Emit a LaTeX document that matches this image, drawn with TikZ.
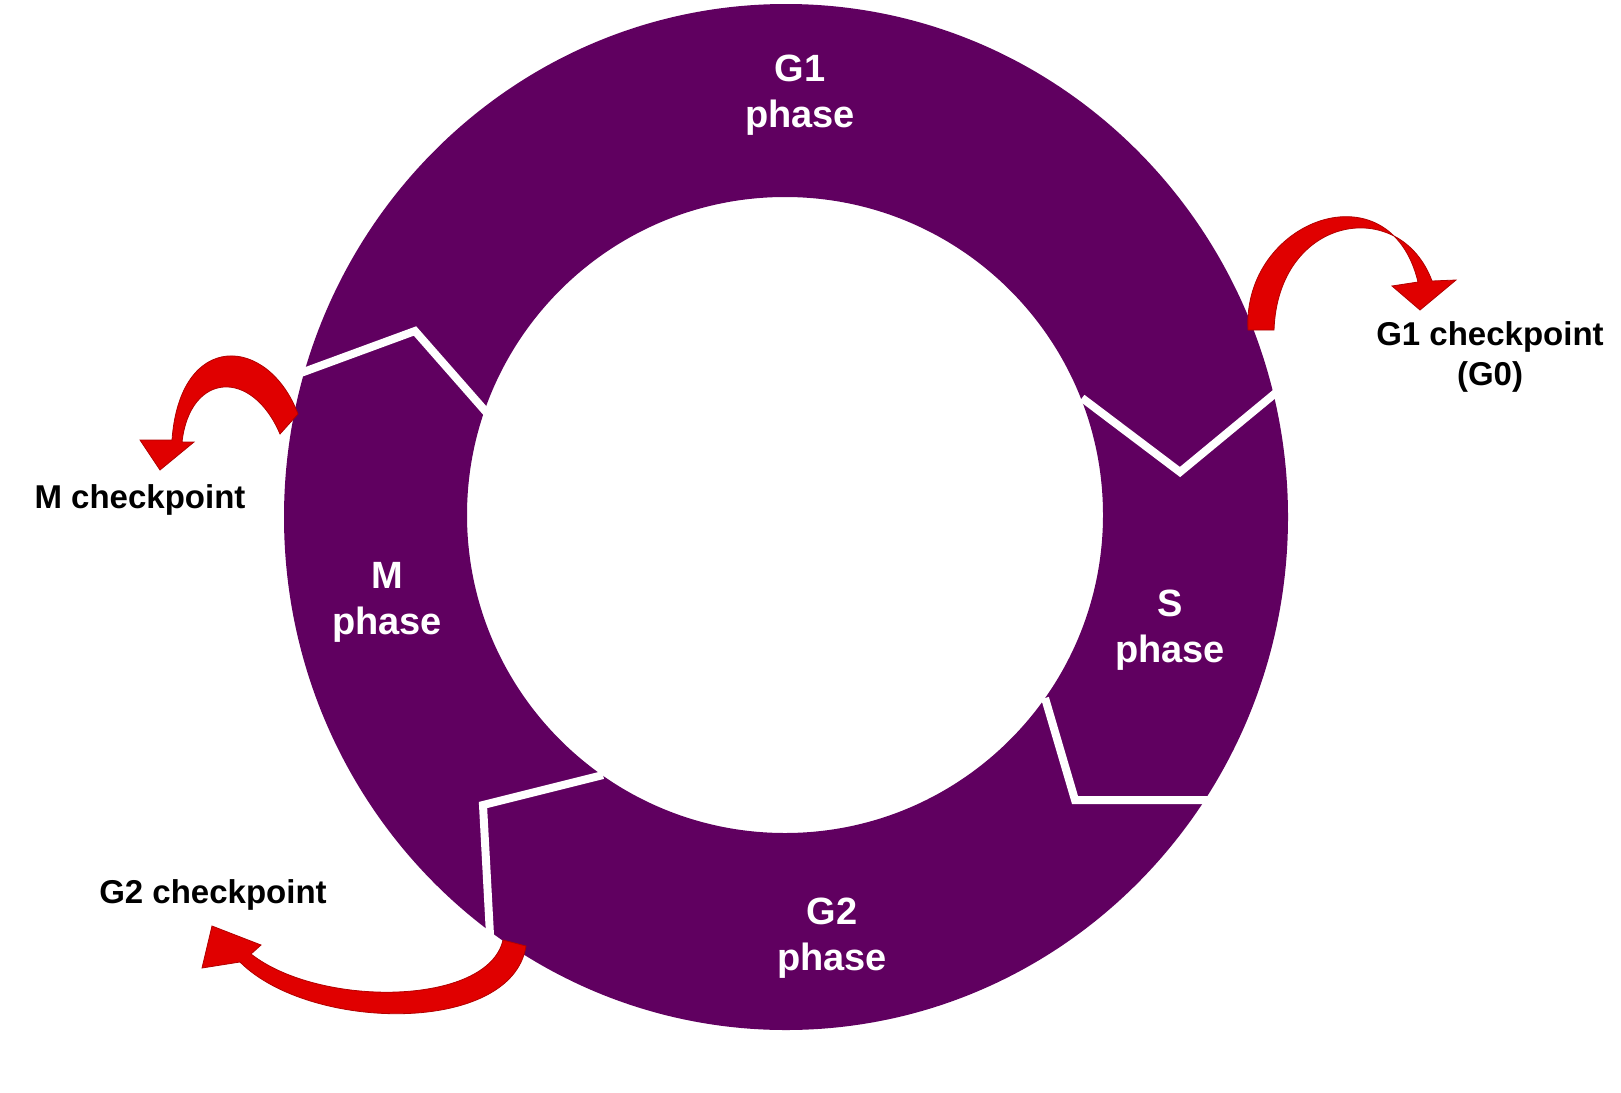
\documentclass[tikz,border=0pt]{standalone}
\usepackage{fontspec}
\setmainfont{Liberation Sans}
\begin{document}
\begin{tikzpicture}[x=1pt,y=-1pt,
  sep/.style={white,line width=8pt,line join=miter},
  ph/.style={white,font=\fontsize{38}{46}\selectfont\bfseries,align=center},
  ck/.style={black,font=\fontsize{33}{40}\selectfont\bfseries,align=center},
  arr/.style={fill=red!88!black,draw=red!70!black,line width=0.8pt}]
\useasboundingbox (0,0) rectangle (1621,1092);
\fill[fill=white] (0,0) rectangle (1621,1092);
\fill[fill={rgb,255:red,96;green,0;blue,96},even odd rule] (786,517) ellipse [x radius=502,y radius=513] (785,515) circle [radius=318];
\draw[sep] (1278,391) -- (1180,472) -- (1082,398);
\draw[sep] (1045,698) -- (1075,800) -- (1210,800);
\draw[sep] (603,775) -- (483,805) -- (490,935);
\draw[sep] (298,374) -- (415,331) -- (487,413);
\node[ph] (g1) at (800,95) {G1\\phase};
\node[ph] (s) at (1170,630) {S\\phase};
\node[ph] (g2) at (832,938) {G2\\phase};
\node[ph] (m) at (387,602) {M\\phase};
\node[ck] (c1) at (1490,357) {G1 checkpoint\\(G0)};
\node[ck] (cm) at (140,500) {M checkpoint};
\node[ck] (c2) at (213,895) {G2 checkpoint};
\filldraw[arr] (1248,330) .. controls (1242,220) and (1390,165) .. (1418,282)
  -- (1392,286) -- (1420,310) -- (1456,280) -- (1432,281)
  .. controls (1400,195) and (1278,215) .. (1274,330) -- cycle;
\filldraw[arr] (298,414) .. controls (268,335) and (180,330) .. (172,440)
  -- (140,440) -- (160,470) -- (194,442) -- (182,442)
  .. controls (190,372) and (252,368) .. (280,434) -- cycle;
\filldraw[arr] (526,946) .. controls (512,1035) and (310,1032) .. (240,962)
  -- (202,968) -- (212,926) -- (261,945) -- (251,954)
  .. controls (320,1008) and (488,1006) .. (503,940) -- cycle;
\end{tikzpicture}
\end{document}
